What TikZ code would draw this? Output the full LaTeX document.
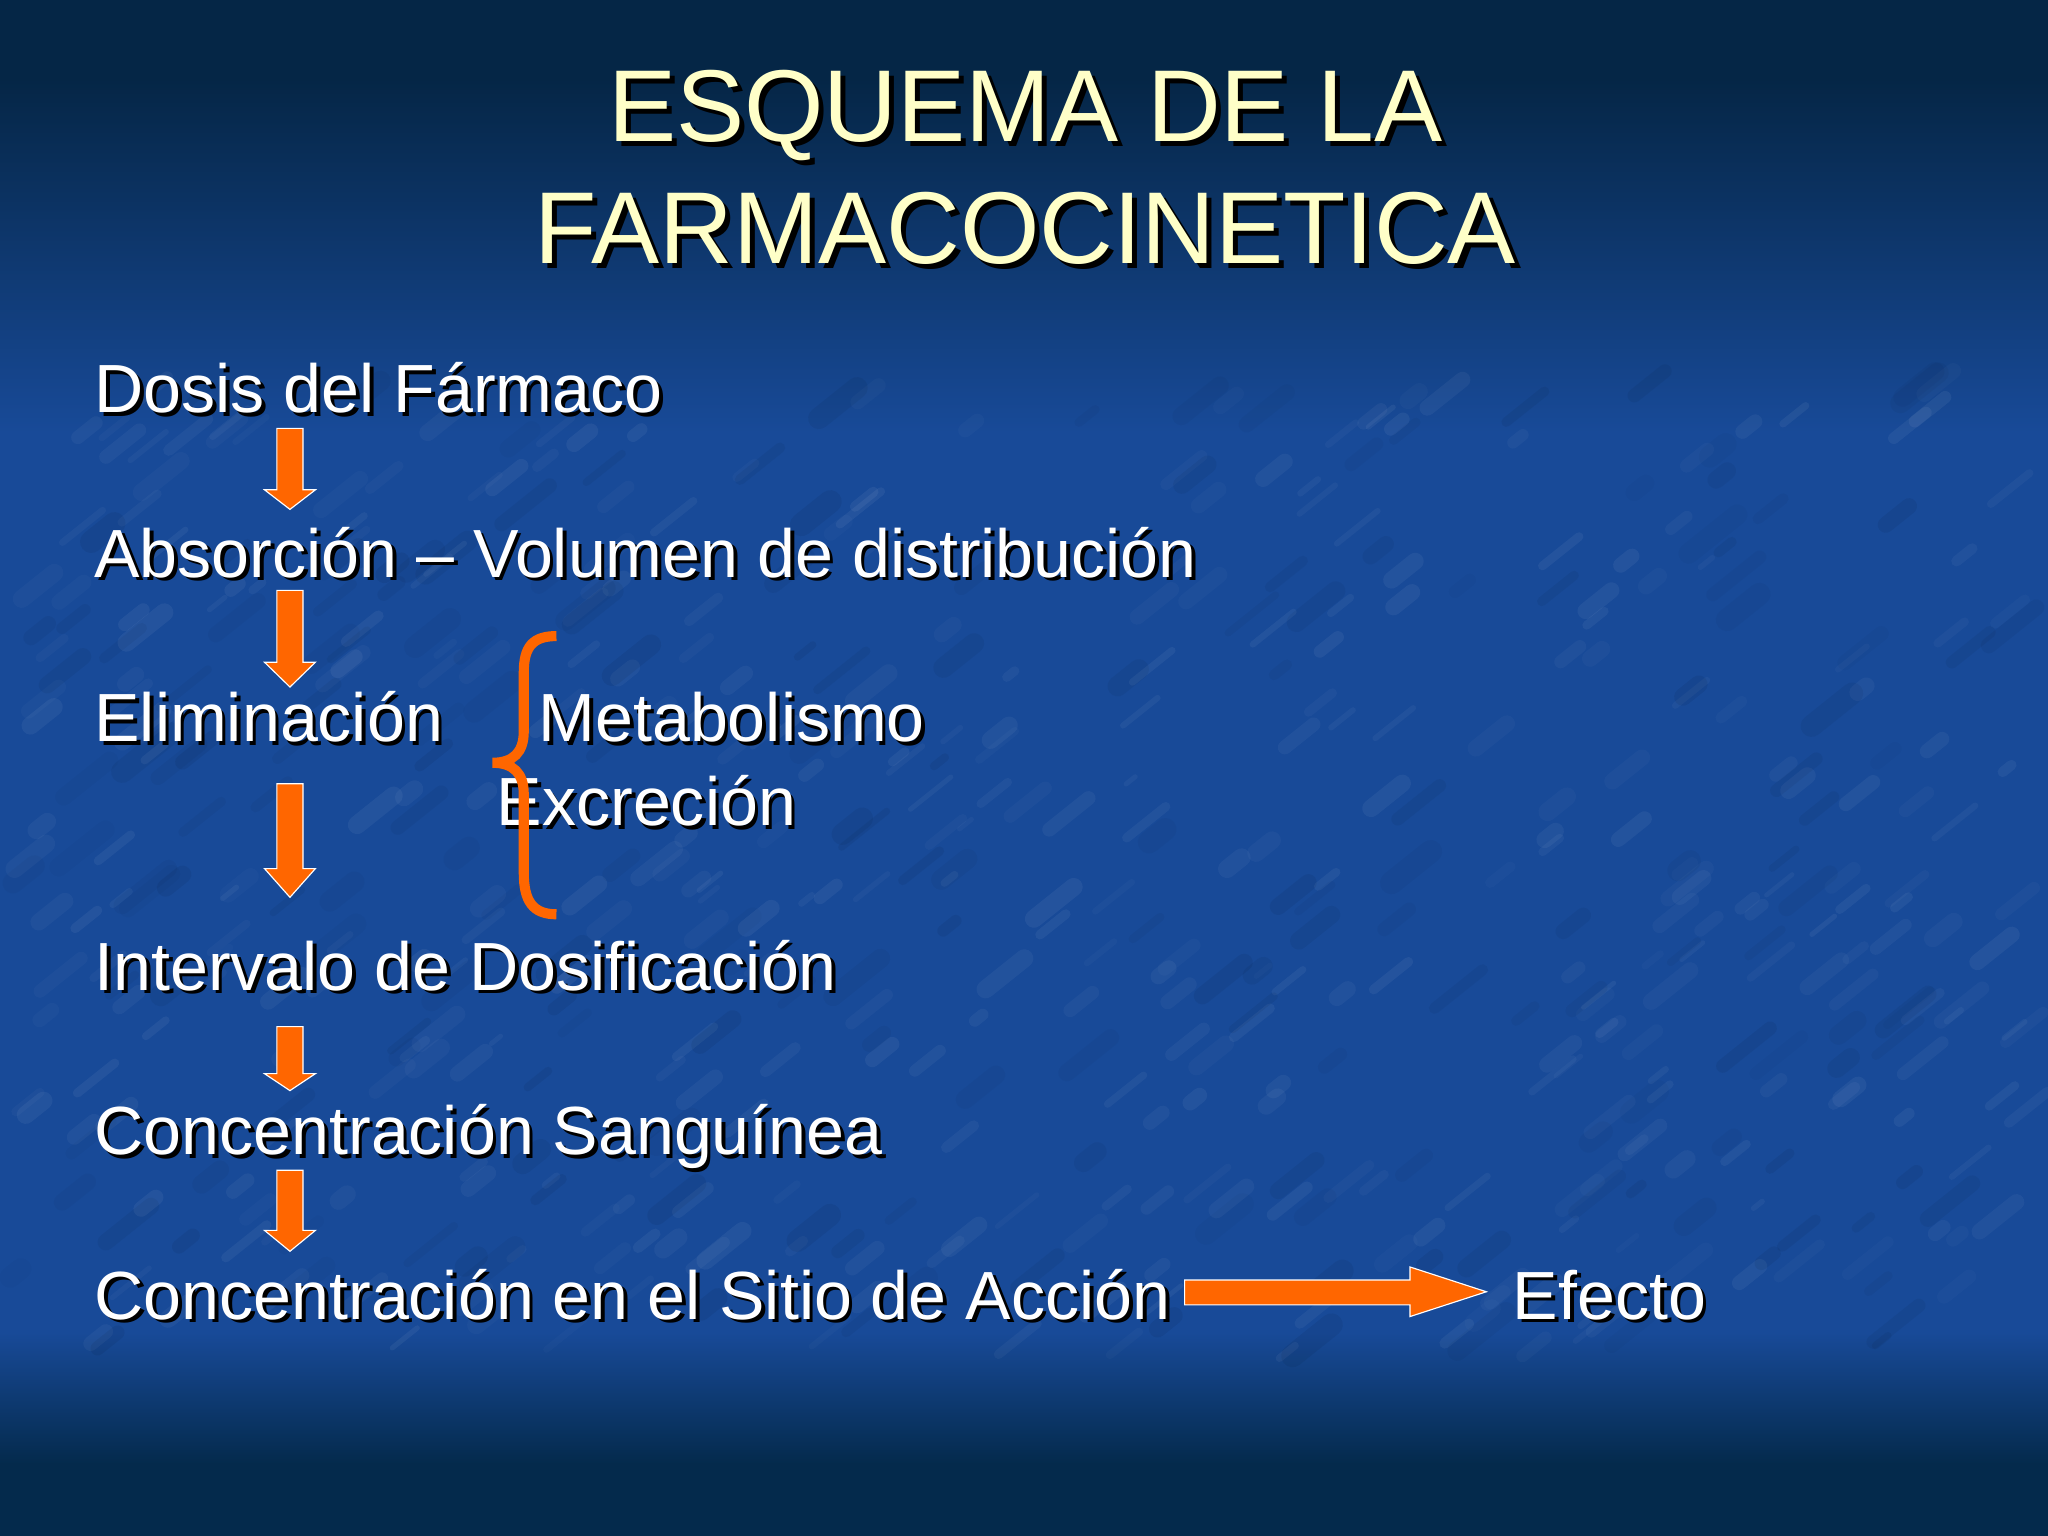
\documentclass[tikz,border=0pt]{standalone}
\usepackage{fontspec}
\setmainfont{Liberation Sans}
\definecolor{ttl}{HTML}{FFFFC8}
\definecolor{orng}{HTML}{FF6600}
\definecolor{bgtop}{RGB}{5,38,70}
\definecolor{bgmid}{RGB}{24,74,152}
\definecolor{bgbot}{RGB}{4,42,76}
\newcommand\shd[2][1.6pt]{\makebox[0pt][l]{\hspace{#1}\raisebox{-#1}{\color{black}#2}}#2}
\newcommand\darr[4]{\filldraw[blockarr] (212,#1) -- (232,#1) -- (232,#2) -- (241.5,#2) -- (222,#3) -- (202.5,#2) -- (212,#2) -- cycle; \coordinate (#4) at (222,#3);}
\begin{document}
\begin{tikzpicture}[x=0.02cm,y=-0.02cm,
  txt/.style={anchor=base west,inner sep=0,text=white,font=\fontsize{29.7}{36}\selectfont},
  ttlstyle/.style={anchor=base,inner sep=0,text=ttl,align=center,font=\fontsize{44.5}{53.5}\selectfont},
  blockarr/.style={fill=orng,draw=white,line width=0.5pt,line join=miter},
  bracestyle/.style={draw=orng,line width=4.4pt,line cap=butt},
  streak/.style={white,line cap=round}]
\useasboundingbox (0,0) rectangle (1568,1176);
% background
\fill[bgtop] (0,0) rectangle (1568,61);
\shade[top color=bgtop,bottom color=bgmid] (0,60) rectangle (1568,331);
\fill[bgmid] (0,330) rectangle (1568,1021);
\shade[top color=bgmid,bottom color=bgbot] (0,1020) rectangle (1568,1121);
\fill[bgbot] (0,1120) rectangle (1568,1176);
% texture
\pgfmathsetseed{12}
\foreach \i in {1,...,380}{
  \pgfmathsetmacro{\px}{rnd*1540}
  \pgfmathsetmacro{\py}{300+rnd*740}
  \pgfmathsetmacro{\len}{6+rnd*26}
  \pgfmathsetmacro{\op}{0.02+rnd*0.035}
  \pgfmathsetmacro{\lw}{2+rnd*6}
  \draw[streak,opacity=\op,line width=\lw pt] (\px,\py) -- ++(\len,-0.8*\len);
}
\foreach \i in {1,...,200}{
  \pgfmathsetmacro{\px}{rnd*1530}
  \pgfmathsetmacro{\py}{300+rnd*740}
  \pgfmathsetmacro{\len}{8+rnd*30}
  \pgfmathsetmacro{\op}{0.02+rnd*0.04}
  \pgfmathsetmacro{\lw}{3+rnd*7}
  \draw[black,line cap=round,opacity=\op,line width=\lw pt] (\px,\py) -- ++(\len,-0.8*\len);
}
% title
\node[ttlstyle] (title) at (785,202) {\shd[2.2pt]{ESQUEMA DE LA}\\\shd[2.2pt]{FARMACOCINETICA}};
% texts
\node[txt] (dosis) at (72,316) {\shd{Dosis del Fármaco}};
\node[txt] (abs) at (72,442) {\shd{Absorción – Volumen de distribución}};
\node[txt] (elim) at (72,568) {\shd{Eliminación}};
\node[txt] (meta) at (412,568) {\shd{Metabolismo}};
\node[txt] (excr) at (380,632) {\shd{Excreción}};
\node[txt] (interv) at (72,758) {\shd{Intervalo de Dosificación}};
\node[txt] (sang) at (72,884) {\shd{Concentración Sanguínea}};
\node[txt] (sitio) at (72,1010) {\shd{Concentración en el Sitio de Acción}};
\node[txt] (efecto) at (1158,1010) {\shd{Efecto}};
% down arrows
\darr{328}{375}{390}{a1}
\darr{452}{507}{526}{a2}
\darr{600}{665}{687}{a3}
\darr{786}{822}{835}{a4}
\darr{896}{942}{958}{a5}
% horizontal arrow
\filldraw[blockarr] (907,980) -- (1079.5,980) -- (1079.5,970) -- (1138,989) -- (1079.5,1008) -- (1079.5,999) -- (907,999) -- cycle;
% brace
\draw[bracestyle] (426,487) .. controls (408,487) and (401,495) .. (401,515) -- (401,560)
  .. controls (401,576) and (393,584) .. (377,584)
  .. controls (393,584) and (401,592) .. (401,608) -- (401,668)
  .. controls (401,690) and (408,700) .. (426,700);
\end{tikzpicture}
\end{document}
